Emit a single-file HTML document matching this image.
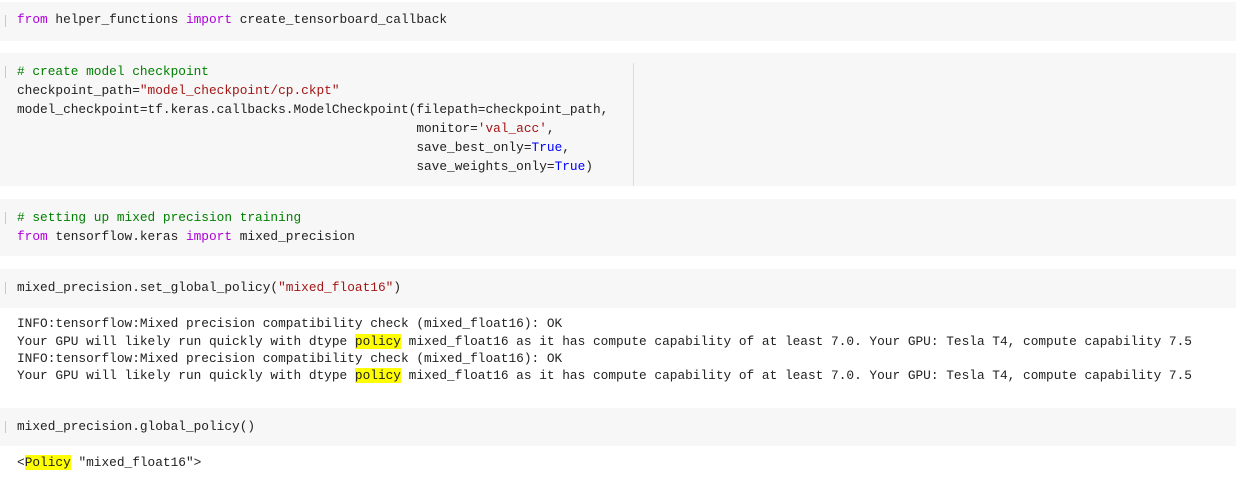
<!DOCTYPE html>
<html><head><meta charset="utf-8"><style>
body{margin:0;width:1236px;height:494px;background:#fff;position:relative;overflow:hidden;font-family:"Liberation Mono",monospace;font-size:12.8px;color:#212121}
.c{position:absolute;left:0;width:1236px;background:#f7f7f7}
.bar{position:absolute;left:5px;width:1px;height:12px;background:#c8c8c8}
.l{position:absolute;left:17px;white-space:pre;line-height:16px}
.k{color:#af00db}.cm{color:#008000}.s{color:#a31515}.t{color:#0000ff}
.h{background:#ffff00}
</style></head><body>
<div class="c" style="top:2px;height:39px"></div>
<div class="bar" style="top:15px"></div>
<div class="l" style="top:12px"><span class="k">from</span> helper_functions <span class="k">import</span> create_tensorboard_callback</div>

<div class="c" style="top:53px;height:133px"></div>
<div style="position:absolute;left:633px;top:63px;width:1px;height:123px;background:#ddd"></div>
<div class="bar" style="top:66px"></div>
<div class="l" style="top:64px"><span class="cm"># create model checkpoint</span></div>
<div class="l" style="top:83px">checkpoint_path=<span class="s">"model_checkpoint/cp.ckpt"</span></div>
<div class="l" style="top:102px">model_checkpoint=tf.keras.callbacks.ModelCheckpoint(filepath=checkpoint_path,</div>
<div class="l" style="top:121px">                                                    monitor=<span class="s">'val_acc'</span>,</div>
<div class="l" style="top:140px">                                                    save_best_only=<span class="t">True</span>,</div>
<div class="l" style="top:159px">                                                    save_weights_only=<span class="t">True</span>)</div>

<div class="c" style="top:199px;height:57px"></div>
<div class="bar" style="top:212px"></div>
<div class="l" style="top:210px"><span class="cm"># setting up mixed precision training</span></div>
<div class="l" style="top:229px"><span class="k">from</span> tensorflow.keras <span class="k">import</span> mixed_precision</div>

<div class="c" style="top:269px;height:39px"></div>
<div class="bar" style="top:282px"></div>
<div class="l" style="top:280px">mixed_precision.set_global_policy(<span class="s">"mixed_float16"</span>)</div>

<div class="l" style="top:316px">INFO:tensorflow:Mixed precision compatibility check (mixed_float16): OK</div>
<div class="l" style="top:334px">Your GPU will likely run quickly with dtype <span class="h">policy</span> mixed_float16 as it has compute capability of at least 7.0. Your GPU: Tesla T4, compute capability 7.5</div>
<div class="l" style="top:351px">INFO:tensorflow:Mixed precision compatibility check (mixed_float16): OK</div>
<div class="l" style="top:368px">Your GPU will likely run quickly with dtype <span class="h">policy</span> mixed_float16 as it has compute capability of at least 7.0. Your GPU: Tesla T4, compute capability 7.5</div>

<div class="c" style="top:408px;height:38px"></div>
<div class="bar" style="top:421px"></div>
<div class="l" style="top:419px">mixed_precision.global_policy()</div>
<div class="l" style="top:455px">&lt;<span class="h">Policy</span> "mixed_float16"&gt;</div>
</body></html>
